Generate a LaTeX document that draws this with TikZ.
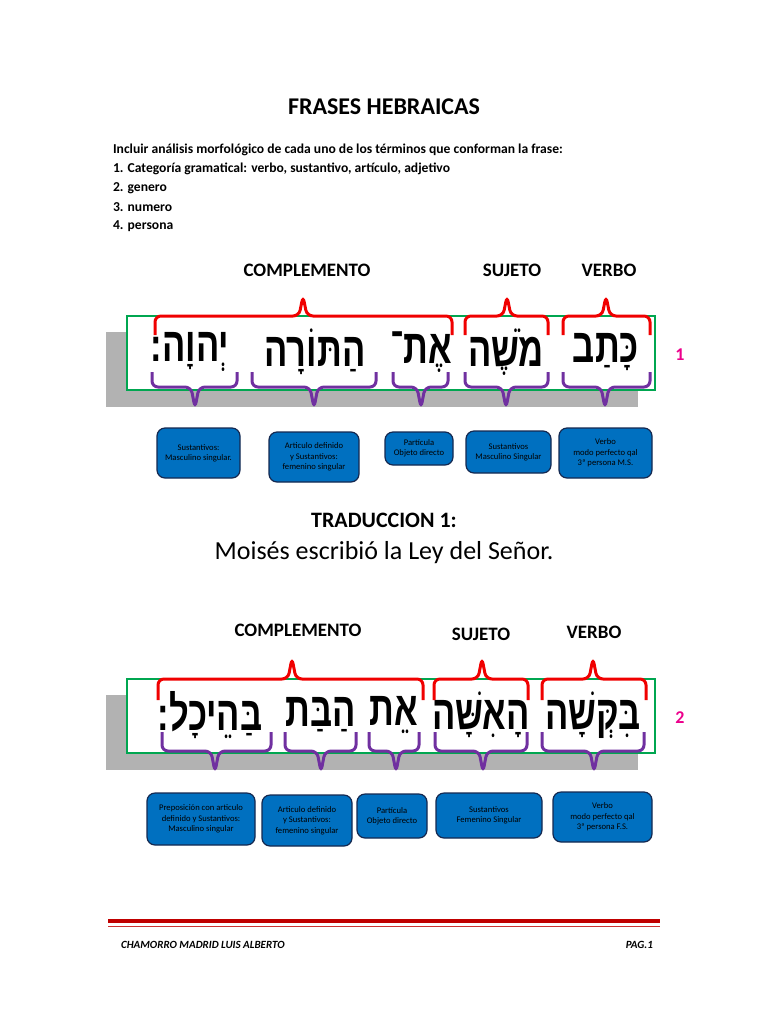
\documentclass[tikz,border=0pt]{standalone}
\usepackage{fontspec}
\setmainfont{Carlito}
\newfontfamily\hebfont[Script=Hebrew, FakeStretch=0.72]{Liberation Sans}
\TeXXeTstate=1
\usepackage{tikz}
\definecolor{boxblue}{RGB}{0,112,192}
\definecolor{boxline}{RGB}{20,40,80}
\definecolor{brred}{RGB}{240,0,0}
\definecolor{brpurple}{RGB}{112,48,160}
\definecolor{linegreen}{RGB}{0,166,80}
\definecolor{footred}{RGB}{192,0,0}
\tikzset{
 heb/.style={font=\hebfont\bfseries\fontsize{24}{26}\selectfont, inner sep=0pt},
 rolelabel/.style={font=\bfseries\fontsize{9.5}{11}\selectfont},
 infobox/.style={draw=boxline, line width=0.6pt, fill=boxblue, rounded corners=4pt, align=center, inner sep=1pt, font=\fontsize{4.3}{5.2}\selectfont},
 numlabel/.style={text=magenta, font=\bfseries\fontsize{9}{10}\selectfont},
 listline/.style={anchor=west, font=\fontsize{6.8}{8}\selectfont},
}
% brace above: left, right, tip, y of ends, y of bar, y of tip
\newcommand{\upbrace}[6]{\draw[brred, line width=1.5pt, rounded corners=3pt] (#1,#4) -- (#1,#5) -- (#3-4,#5) -- (#3,#6) -- (#3+4,#5) -- (#2,#5) -- (#2,#4);}
\newcommand{\downbrace}[6]{\draw[brpurple, line width=1.5pt, rounded corners=3pt] (#1,#4) -- (#1,#5) -- (#3-4,#5) -- (#3,#6) -- (#3+4,#5) -- (#2,#5) -- (#2,#4);}
\begin{document}
\begin{tikzpicture}[x=0.5pt,y=-0.5pt]
\useasboundingbox (0,0) rectangle (768,1024);
\node[font=\bfseries\fontsize{12}{14}\selectfont] (title) at (384,107) {FRASES HEBRAICAS};
\node[listline] (l0) at (106,150) {\bfseries Incluir análisis morfológico de cada uno de los términos que conforman la frase:};
\node[listline] (l1) at (106,169) {\bfseries 1. Categoría gramatical: verbo, sustantivo, artículo, adjetivo};
\node[listline] (l2) at (106,188) {\bfseries 2. genero};
\node[listline] (l3) at (106,207) {\bfseries 3. numero};
\node[listline] (l4) at (106,226) {\bfseries 4. persona};

% frase 1
\node[rolelabel] (comp1) at (307,270) {COMPLEMENTO};
\node[rolelabel] (suj1) at (512,270) {SUJETO};
\node[rolelabel] (verb1) at (609,270) {VERBO};
\fill[black!30] (106,332) rectangle (638,407);
\filldraw[fill=white, draw=linegreen, line width=0.8pt] (127,316) rectangle (655,390);
\node[heb] (w1a) at (606,352) {\beginR כָּתַב\endR};
\node[heb] (w1b) at (506,352) {\beginR מֹשֶׁה\endR};
\node[heb] (w1c) at (421,352) {\beginR אֶת־\endR};
\node[heb] (w1d) at (315,352) {\beginR הַתּוֹרָה\endR};
\node[heb] (w1e) at (190,352) {\beginR יְהוָה:\endR};
\upbrace{563}{650}{606}{335}{316}{296}
\upbrace{465}{548}{507}{335}{316}{296}
\upbrace{155}{452}{303}{335}{316}{296}
\downbrace{152}{237}{195}{372}{387}{408}
\downbrace{252}{376}{314}{372}{387}{408}
\downbrace{393}{448}{421}{372}{387}{408}
\downbrace{465}{548}{506}{372}{387}{408}
\downbrace{563}{650}{605}{372}{387}{408}
\node[numlabel] (n1) at (680,355) {1};
\node[infobox, minimum width=41.5pt, minimum height=25pt] (b1a) at (198.5,453) {Sustantivos:\\Masculino singular.};
\node[infobox, minimum width=45pt, minimum height=25pt] (b1b) at (314,457) {Articulo definido\\y Sustantivos:\\femenino singular};
\node[infobox, minimum width=34pt, minimum height=16.5pt] (b1c) at (419,448.5) {Partícula\\Objeto directo};
\node[infobox, minimum width=42.5pt, minimum height=21pt] (b1d) at (508.5,452) {Sustantivos\\Masculino Singular};
\node[infobox, minimum width=46.5pt, minimum height=25pt] (b1e) at (605.5,453) {Verbo\\modo perfecto qal\\3ª persona M.S.};

\node[font=\bfseries\fontsize{11}{13}\selectfont] (trad) at (384,520) {TRADUCCION 1:};
\node[font=\fontsize{13}{15}\selectfont] (frase) at (384,553) {Moisés escribió la Ley del Señor.};

% frase 2
\node[rolelabel] (comp2) at (298,630) {COMPLEMENTO};
\node[rolelabel] (suj2) at (481,634) {SUJETO};
\node[rolelabel] (verb2) at (594,632) {VERBO};
\fill[black!30] (106,695) rectangle (638,770);
\filldraw[fill=white, draw=linegreen, line width=0.8pt] (127,679) rectangle (655,753);
\node[heb] (w2a) at (593,715) {\beginR בִּקְּשָׁה\endR};
\node[heb] (w2b) at (481,715) {\beginR הָאִשָּׁה\endR};
\node[heb] (w2c) at (394,715) {\beginR אֵת\endR};
\node[heb] (w2d) at (321,715) {\beginR הַבַּת\endR};
\node[heb] (w2e) at (210,715) {\beginR בַּהֵיכָל:\endR};
\upbrace{542}{646}{593}{700}{679}{658}
\upbrace{434}{528}{482}{700}{679}{658}
\upbrace{158}{423}{292}{700}{679}{658}
\downbrace{162}{271}{215}{732}{751}{772}
\downbrace{285}{356}{321}{732}{751}{772}
\downbrace{369}{419}{396}{732}{751}{772}
\downbrace{435}{527}{483}{732}{751}{772}
\downbrace{542}{644}{594}{732}{751}{772}
\node[numlabel] (n2) at (680,718) {2};
\node[infobox, minimum width=54pt, minimum height=26pt] (b2a) at (201,819) {Preposición con articulo\\definido y Sustantivos:\\Masculino singular};
\node[infobox, minimum width=45pt, minimum height=25.5pt] (b2b) at (307,820.5) {Articulo definido\\y Sustantivos:\\femenino singular};
\node[infobox, minimum width=35pt, minimum height=22pt] (b2c) at (392,816) {Partícula\\Objeto directo};
\node[infobox, minimum width=53pt, minimum height=22.5pt] (b2d) at (489,815.5) {Sustantivos\\Femenino Singular};
\node[infobox, minimum width=49.5pt, minimum height=25pt] (b2e) at (602.5,817) {Verbo\\modo perfecto qal\\3ª persona F.S.};

% pie
\fill[footred] (108,919) rectangle (660,923);
\fill[footred!80] (108,925.5) rectangle (660,927);
\node[anchor=west, font=\bfseries\itshape\fontsize{5.5}{6}\selectfont] (autor) at (114,945) {CHAMORRO MADRID LUIS ALBERTO};
\node[anchor=east, font=\bfseries\itshape\fontsize{5.5}{6}\selectfont] (pag) at (660,945) {PAG.1};
\end{tikzpicture}
\end{document}
